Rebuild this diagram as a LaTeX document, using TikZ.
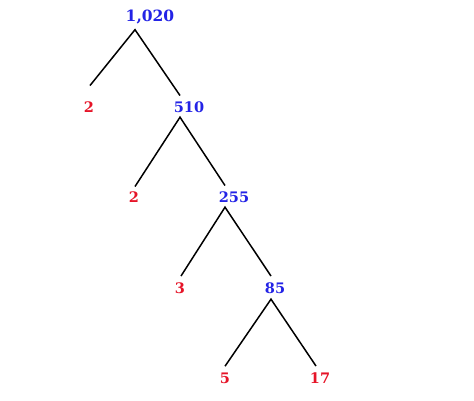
\documentclass[tikz,border=0pt]{standalone}
\usepackage{fontspec}
\setmainfont{DejaVu Serif}
\usepackage{tikz}
\definecolor{numblue}{RGB}{35,35,230}
\definecolor{numred}{RGB}{230,20,40}
\tikzset{
  % composite numbers (blue)
  composite/.style={anchor=base, inner sep=0pt, text depth=0pt,
    font=\fontsize{14.5}{16}\selectfont\bfseries, text=numblue},
  % prime factors (red)
  prime/.style={composite, text=numred},
  % tree branches
  branch/.style={line width=1.5pt, black}
}

\begin{document}
\begin{tikzpicture}[x=1pt,y=-1pt]
  \useasboundingbox[fill=white] (0,0) rectangle (474,401);

  \node[composite, font=\fontsize{15.5}{17}\selectfont\bfseries] (n1020) at (150,21.5) {1,020};
  \node[prime]     (n2a)   at (89,112.5)  {2};
  \node[composite] (n510)  at (189,112.5) {510};
  \node[prime]     (n2b)   at (134,202.5) {2};
  \node[composite] (n255)  at (234,202.5) {255};
  \node[prime]     (n3)    at (180,293)  {3};
  \node[composite] (n85)   at (275,293)  {85};
  \node[prime]     (n5)    at (225,383)  {5};
  \node[prime]     (n17)   at (320,383)  {17};

  % branches
  \draw[branch] ([shift={(1,-16)}]n2a.north) -- ([shift={(-15,8)}]n1020.south) -- ([shift={(-9,-6)}]n510.north);
  \draw[branch] ([shift={(1,-5)}]n2b.north) -- ([shift={(-9,4.5)}]n510.south) -- ([shift={(-9,-6)}]n255.north);
  \draw[branch] ([shift={(1,-6)}]n3.north) -- ([shift={(-9,4.5)}]n255.south) -- ([shift={(-4,-6)}]n85.north);
  \draw[branch] ([shift={(0,-6)}]n5.north) -- ([shift={(-4,6)}]n85.south) -- ([shift={(-4,-6)}]n17.north);
\end{tikzpicture}
\end{document}
